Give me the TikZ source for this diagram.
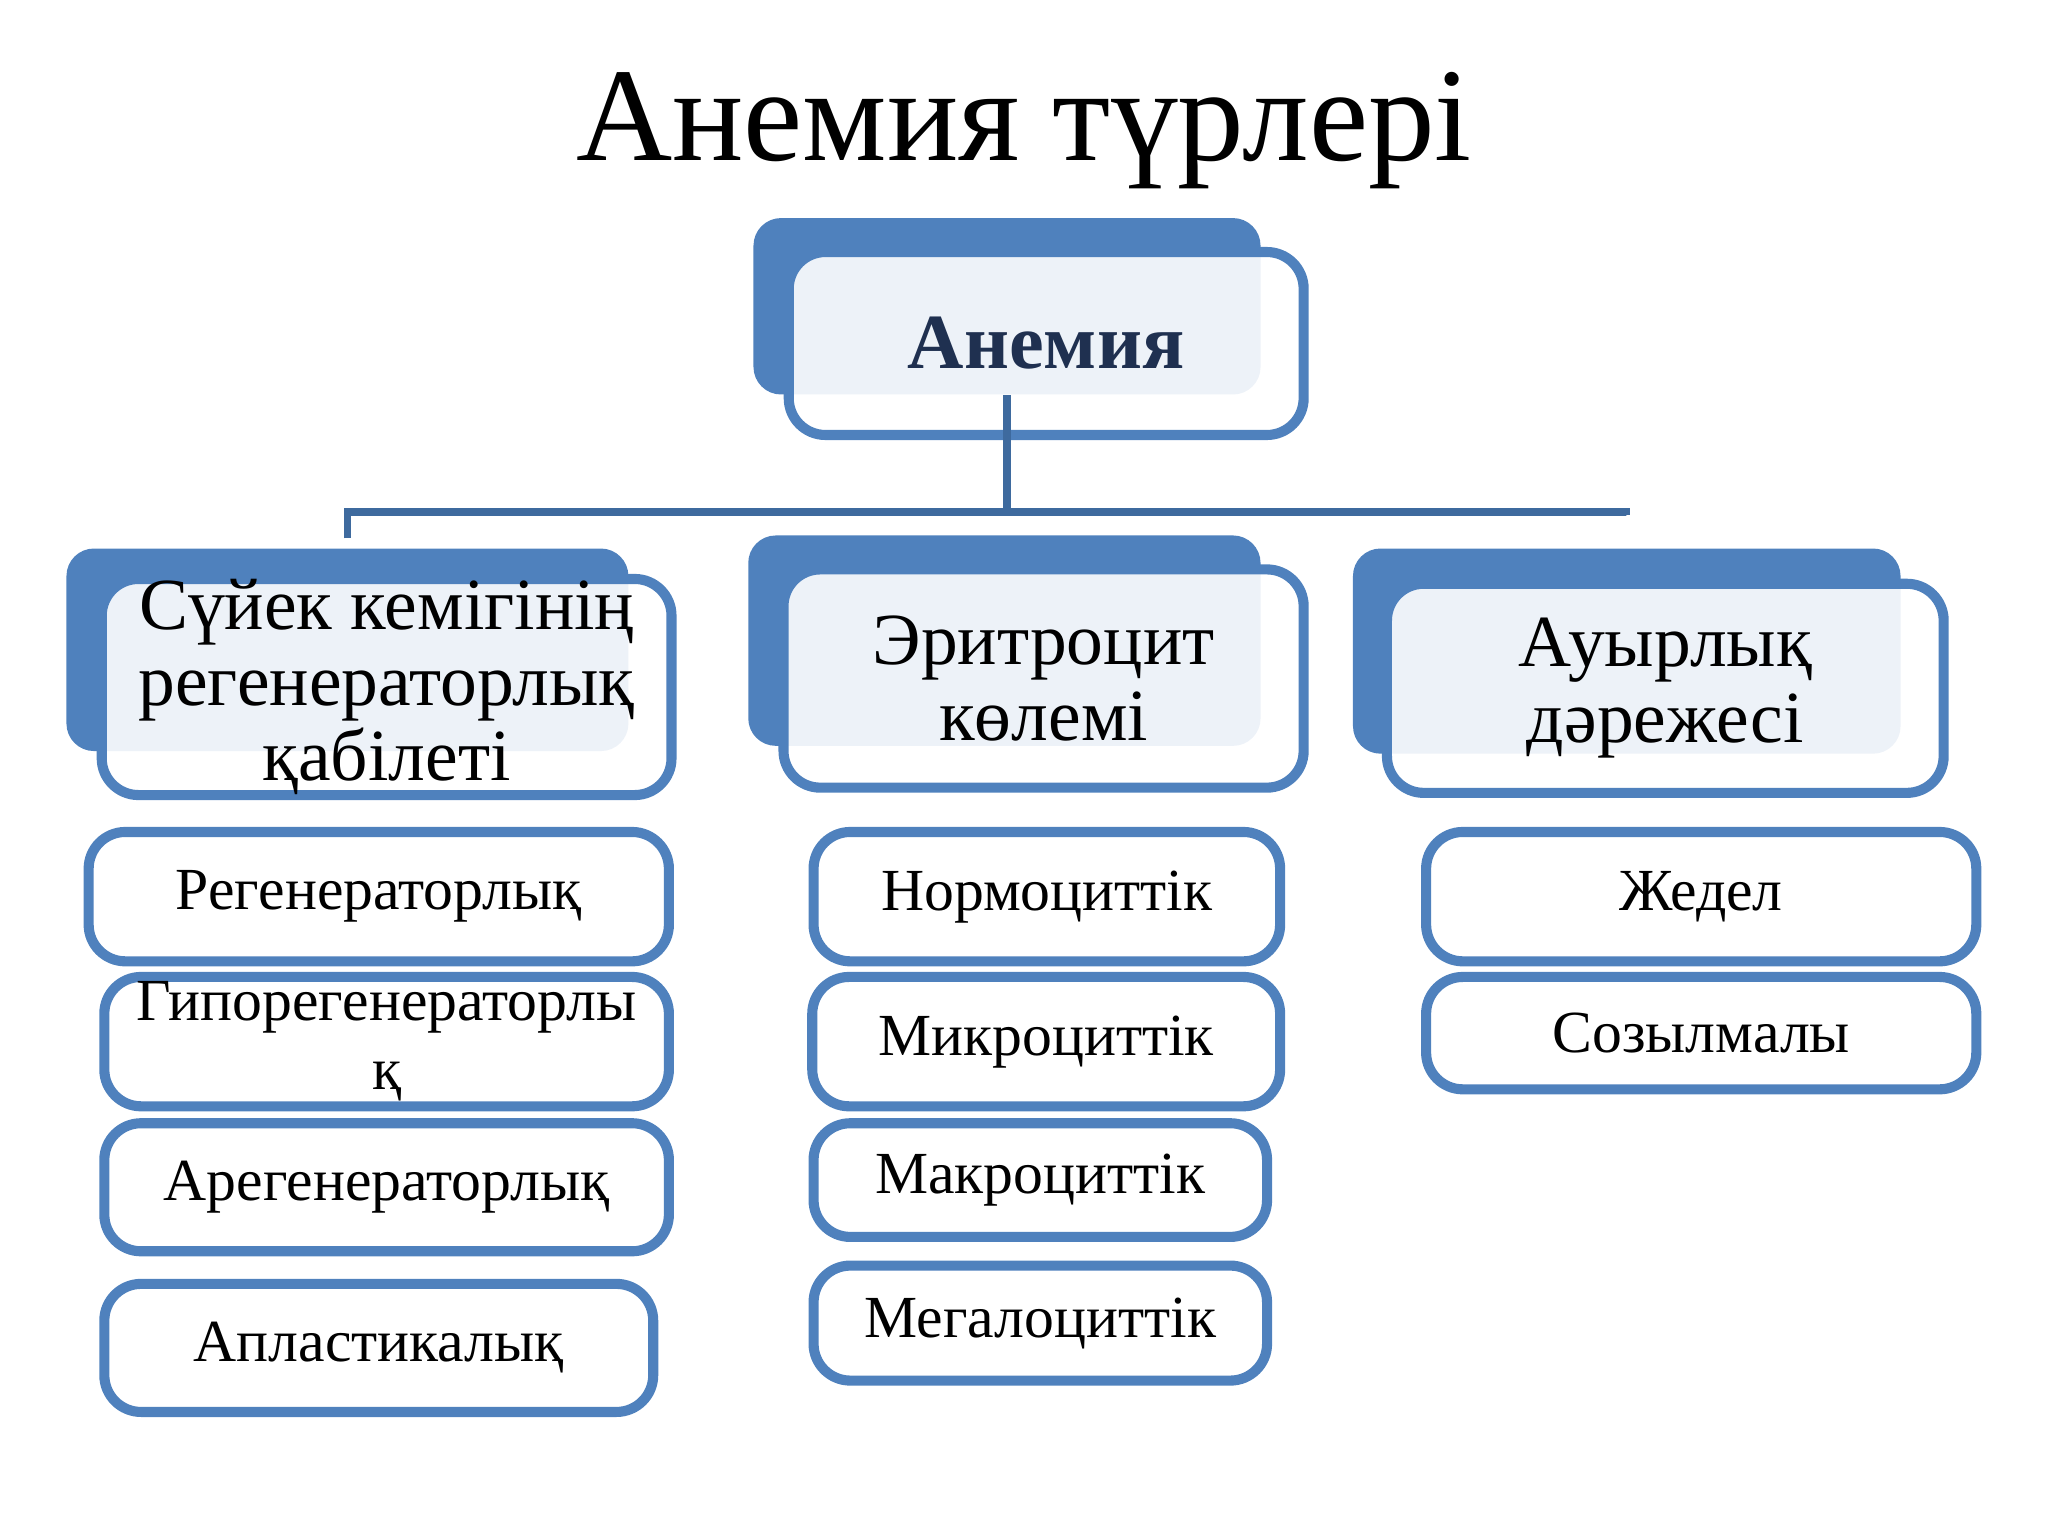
\documentclass[tikz,border=0pt]{standalone}
\usepackage{fontspec}
\setmainfont{Liberation Serif}
\definecolor{bl}{HTML}{4F81BD}
\definecolor{cn}{HTML}{3E6A9E}
\definecolor{nv}{HTML}{1F3050}
\begin{document}
\begin{tikzpicture}[x=0.01cm,y=-0.01cm,
 backbox/.style={draw=none,fill=bl,rounded corners=6pt,inner sep=0pt},
 frontbox/.style={draw=bl,line width=2.2pt,fill=white,fill opacity=0.9,text opacity=1,rounded corners=8pt,inner sep=0pt,align=center,font=\fontsize{16}{16.5}\selectfont},
 subbox/.style={draw=bl,line width=2.2pt,fill=white,rounded corners=8pt,inner sep=0pt,align=center,font=\fontsize{13}{15}\selectfont},
 conn/.style={draw=cn,line width=1.6pt}]
\useasboundingbox (0,0) rectangle (1568,1176);
\node[font=\fontsize{29}{34}\selectfont] (title) at (784,100) {Анемия түрлері};
% headers
\node[backbox,minimum width=3.88cm,minimum height=1.35cm] (Ab) at (771,234.5) {};
\node[frontbox,minimum width=3.94cm,minimum height=1.40cm,text=nv,font=\fontsize{17}{18}\selectfont\bfseries] (A) at (801,263) {Анемия};
\node[backbox,minimum width=4.30cm,minimum height=1.55cm] (Lb) at (266,497.5) {};
\node[frontbox,minimum width=4.36cm,minimum height=1.62cm] (L) at (296,526) {Сүйек кемігінің\\регенераторлық\\қабілеті};
\node[backbox,minimum width=3.92cm,minimum height=1.61cm] (Mb) at (769,490.5) {};
\node[frontbox,minimum width=3.98cm,minimum height=1.67cm] (M) at (799,519.5) {Эритроцит\\көлемі};
\node[backbox,minimum width=4.19cm,minimum height=1.57cm] (Rb) at (1245.5,498.5) {};
\node[frontbox,minimum width=4.26cm,minimum height=1.60cm] (R) at (1275,527) {Ауырлық\\дәрежесі};
% connectors
\coordinate (j) at (771,392);
\draw[conn] (Ab.south) -- (j);
\draw[conn] (Lb.north) ++(0,-7) |- (j) -| ([yshift=7]Rb.north);
\draw[conn] (j) -- ([yshift=5]Mb.north);
% subs
\node[subbox,minimum width=4.44cm,minimum height=0.99cm] (L1) at (290,686.5) {Регенераторлық};
\node[subbox,minimum width=4.32cm,minimum height=0.99cm] (L2) at (296,797.5) {Гипорегенераторлы\\қ};
\node[subbox,minimum width=4.32cm,minimum height=0.98cm] (L3) at (296,909) {Арегенераторлық};
\node[subbox,minimum width=4.20cm,minimum height=0.98cm] (L4) at (290,1032) {Апластикалық};
\node[subbox,minimum width=3.57cm,minimum height=0.99cm] (M1) at (801.5,686.5) {Нормоциттік};
\node[subbox,minimum width=3.58cm,minimum height=0.99cm] (M2) at (801,797.5) {Микроциттік};
\node[subbox,minimum width=3.47cm,minimum height=0.87cm] (M3) at (796.5,903.5) {Макроциттік};
\node[subbox,minimum width=3.47cm,minimum height=0.88cm] (M4) at (796.5,1013) {Мегалоциттік};
\node[subbox,minimum width=4.21cm,minimum height=0.99cm] (R1) at (1302.5,686.5) {Жедел};
\node[subbox,minimum width=4.21cm,minimum height=0.86cm] (R2) at (1302.5,791) {Созылмалы};
\end{tikzpicture}
\end{document}
